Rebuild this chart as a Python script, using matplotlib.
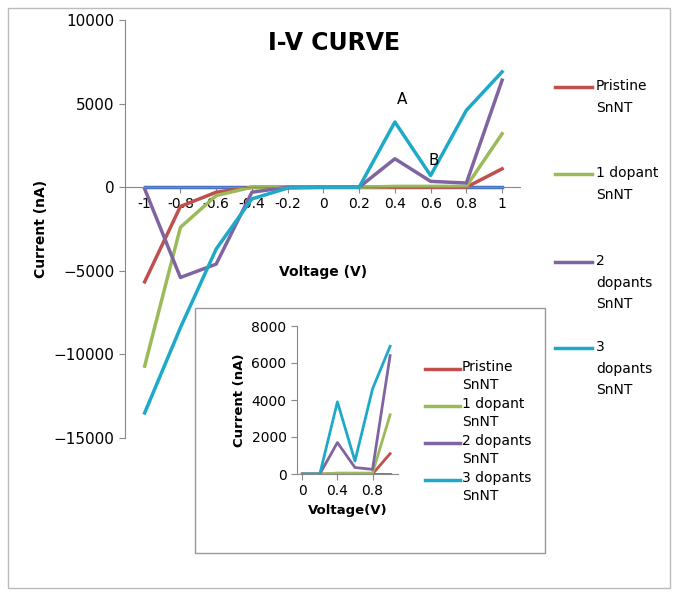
import matplotlib.pyplot as plt
from matplotlib.patches import Rectangle
from matplotlib.lines import Line2D

voltage = [-1, -0.8, -0.6, -0.4, -0.2, 0, 0.2, 0.4, 0.6, 0.8, 1]
tick_labels = ["-1", "-0.8", "-0.6", "-0.4", "-0.2", "0", "0.2", "0.4", "0.6", "0.8", "1"]
pristine = [-5660, -1150, -300, 0, 0, 0, 0, 0, 0, 0, 1100]
dopant1 = [-10700, -2400, -500, 0, 0, 0, 0, 50, 50, 50, 3200]
dopant2 = [-100, -5400, -4600, -300, 0, 0, 0, 1700, 350, 250, 6400]
dopant3 = [-13500, -8400, -3700, -700, -50, 0, 0, 3900, 700, 4600, 6900]
baseline = [0] * 11

names = ["Pristine\nSnNT", "1 dopant\nSnNT", "2\ndopants\nSnNT", "3\ndopants\nSnNT"]
inset_names = ["Pristine\nSnNT", "1 dopant\nSnNT", "2 dopants\nSnNT", "3 dopants\nSnNT"]
colors = ["#C0504D", "#9BBB59", "#8064A2", "#1FA9C9"]
series = [pristine, dopant1, dopant2, dopant3]

fig = plt.figure(figsize=(6.85, 5.96), dpi=100)
fig.patches.append(Rectangle((8 / 685, 8 / 596), 662 / 685, 580 / 596, transform=fig.transFigure,
                             fill=False, edgecolor="#BBBBBB", lw=1))

ax = fig.add_axes([125 / 685, 1 - 438 / 596, 395 / 685, 418 / 596])
pos = list(range(len(voltage)))
ax.plot(pos, baseline, color="#4472C4", lw=2.5)
for s, c in zip(series, colors):
    ax.plot(pos, s, color=c, lw=2.5)
ax.set_xlim(-0.55, 10.5)
ax.set_ylim(-15000, 10000)
ax.set_yticks(range(-15000, 10001, 5000))
ax.set_xticks(pos)
ax.set_xticklabels(tick_labels, fontsize=11)
ax.tick_params(axis="y", labelsize=11, length=4, color="#888888")
ax.tick_params(axis="x", length=4, color="#888888", pad=3)
for sp in ["top", "right"]:
    ax.spines[sp].set_visible(False)
ax.spines["bottom"].set_position(("data", 0))
ax.spines["bottom"].set_color("#888888")
ax.spines["left"].set_color("#888888")
ax.set_ylabel("Current (nA)", fontweight="bold", fontsize=10)
ax.text(5, -5300, "Voltage (V)", ha="center", fontweight="bold", fontsize=10)
ax.text(5.3, 8200, "I-V CURVE", ha="center", fontweight="bold", fontsize=17)
ax.text(7.2, 5000, "A", ha="center", fontsize=11)
ax.text(8.1, 1300, "B", ha="center", fontsize=11)

ys = [87, 174, 262, 348]
for name, c, y in zip(names, colors, ys):
    fig.lines.append(Line2D([555 / 685, 592 / 685], [1 - y / 596] * 2, color=c, lw=2.5,
                            transform=fig.transFigure))
    fig.text(596 / 685, 1 - (y - 8) / 596, name, va="top", fontsize=10, linespacing=1.7)

fig.patches.append(Rectangle((195 / 685, 1 - 553 / 596), 350 / 685, 245 / 596, transform=fig.transFigure,
                             facecolor="white", edgecolor="#999999", lw=1, zorder=2))
ins = fig.add_axes([297 / 685, 1 - 474 / 596, 101 / 685, 148 / 596], zorder=3)
ins.patch.set_alpha(0)
ipos = list(range(6))
ins.plot(ipos, baseline[5:], color="#4472C4", lw=2)
for s, c in zip(series, colors):
    ins.plot(ipos, s[5:], color=c, lw=2)
ins.set_xlim(-0.3, 5.45)
ins.set_ylim(0, 8000)
ins.set_yticks(range(0, 8001, 2000))
ins.set_xticks([0, 2, 4])
ins.set_xticklabels(["0", "0.4", "0.8"])
ins.tick_params(labelsize=10, length=4, color="#888888")
for sp in ["top", "right"]:
    ins.spines[sp].set_visible(False)
ins.spines["bottom"].set_color("#888888")
ins.spines["left"].set_color("#888888")
ins.set_ylabel("Current (nA)", fontweight="bold", fontsize=9.5)
ins.set_xlabel("Voltage(V)", fontweight="bold", fontsize=9.5)

iys = [369, 406, 443, 480]
for name, c, y in zip(inset_names, colors, iys):
    fig.lines.append(Line2D([425 / 685, 460 / 685], [1 - y / 596] * 2, color=c, lw=2.5,
                            transform=fig.transFigure, zorder=4))
    fig.text(462 / 685, 1 - (y - 9) / 596, name, va="top", fontsize=10, linespacing=1.35, zorder=4)

fig.savefig("out.png")
